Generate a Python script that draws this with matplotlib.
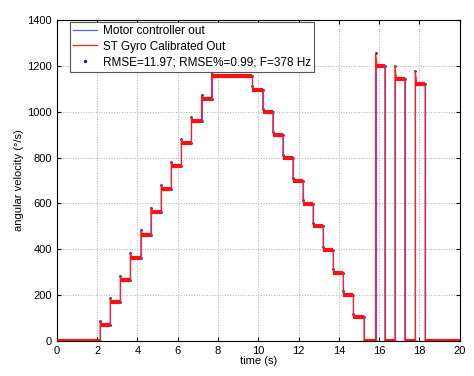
import numpy as np
import matplotlib.pyplot as plt

plt.rcParams['font.family'] = ['Liberation Sans', 'DejaVu Sans']

# time (s) at which each commanded level begins, and the level (deg/s)
step_times = [0.0, 2.15, 2.65, 3.15, 3.65, 4.17, 4.67, 5.18, 5.68, 6.18, 6.68, 7.18, 7.68,
              9.71, 10.22, 10.72, 11.22, 11.72, 12.22, 12.72, 13.22, 13.72, 14.22, 14.72, 15.25,
              15.82, 16.28, 16.78, 17.27, 17.79, 18.28]
step_levels = [0, 72, 168, 264, 363, 464, 564, 661, 761, 862, 958, 1054, 1155,
               1095, 997, 897, 796, 697, 599, 500, 398, 297, 201, 105, 0,
               1200, 0, 1142, 0, 1120, 0]
# gyro peak right after each transition (overshoot)
gyro_peaks = [0, 88, 186, 282, 382, 482, 582, 680, 780, 880, 976, 1072, 1172,
              1110, 1012, 912, 812, 712, 614, 515, 412, 312, 216, 120, 0,
              1255, 0, 1199, 0, 1177, 0]
end_time = 20.0

settle = 0.08
t_next = step_times[1:] + [end_time]

# motor controller: ideal steps
motor_t = step_times + [end_time]
motor_v = step_levels + [step_levels[-1]]

# gyro: overshoot then settle on each level
gyro_t, gyro_v = [], []
for t0, t1, lv, pk in zip(step_times, t_next, step_levels, gyro_peaks):
    gyro_t += [t0, t0 + settle, t1]
    gyro_v += [pk, lv, lv]

fig = plt.figure(figsize=(4.74, 3.76), dpi=100)
ax = fig.add_axes([0.120, 0.093, 0.850, 0.854])

l3, = ax.plot(gyro_t, gyro_v, '.', color='#2020a0', ms=2, ls='none', zorder=1,
              label='RMSE=11.97; RMSE%=0.99; F=378 Hz')
l1, = ax.step(motor_t, motor_v, where='post', color='#5a5aff', lw=0.9, zorder=2,
              label='Motor controller out')
l2, = ax.plot(gyro_t, gyro_v, color='#ff2020', lw=0.9, zorder=3,
              label='ST Gyro Calibrated Out')
# noise band on the plateaus
ax.hlines(step_levels, step_times, t_next, color='#ff1010', lw=3, zorder=3)

ax.set_xlim(0, 20)
ax.set_ylim(0, 1400)
ax.set_xticks(np.arange(0, 21, 2))
ax.set_yticks(np.arange(0, 1401, 200))
ax.tick_params(direction='in', top=True, right=True, labelsize=8, length=3)
ax.grid(True, ls=':', color='#b0b0b0', lw=0.7)
ax.set_xlabel('time (s)', fontsize=8, labelpad=0)
ax.set_ylabel('angular velocity (\u00b0/s)', fontsize=8, labelpad=2)

leg = ax.legend(handles=[l1, l2, l3], loc='upper left', bbox_to_anchor=(0.032, 0.995),
                borderaxespad=0, fontsize=8.5, fancybox=False, framealpha=1,
                edgecolor='#555555', handlelength=2.0, handletextpad=0.5,
                labelspacing=0.3, borderpad=0.3, markerscale=1.5)
leg.get_frame().set_linewidth(0.8)

fig.savefig('out.png', dpi=100)
